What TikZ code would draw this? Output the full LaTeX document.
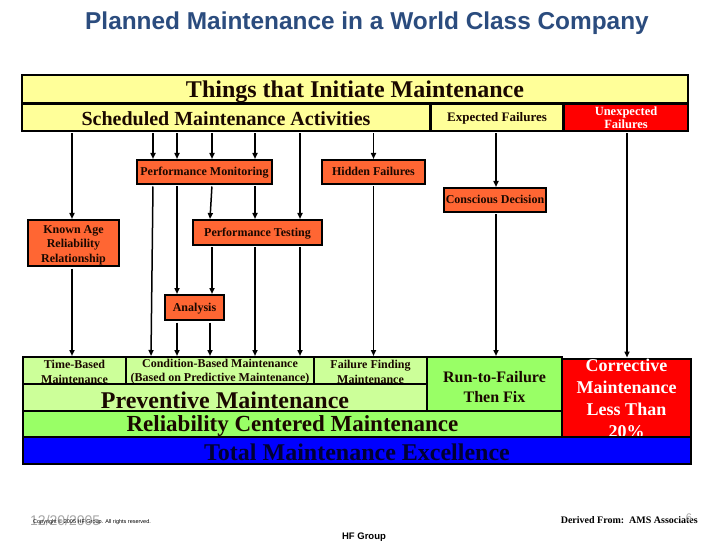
\documentclass[tikz,border=0pt]{standalone}
\usepackage{fontspec}
\setmainfont{Liberation Serif}
\newfontfamily\arialf{Liberation Sans}
\usetikzlibrary{arrows.meta}
\definecolor{ttl}{HTML}{2B4C7E}
\definecolor{yel}{HTML}{FFFF99}
\definecolor{org}{HTML}{FF6633}
\definecolor{lgr}{HTML}{CCFF99}
\definecolor{mgr}{HTML}{99FF66}
\definecolor{rd}{HTML}{FF0000}
\definecolor{bl}{HTML}{0000FF}
\definecolor{nv}{HTML}{000033}
\definecolor{dk}{HTML}{1A0800}
\newcommand\fsz[2]{\fontsize{#1bp}{#2bp}\selectfont}
\begin{document}
\begin{tikzpicture}[x=1bp,y=-1bp,
  bx/.style={draw=black,line width=2bp,inner sep=0pt,align=center,text=dk},
  obx/.style={bx,fill=org,font=\bfseries\fsz{12}{14.5}},
  obxa/.style={obx,text height=11bp,text depth=3bp},
  sbx/.style={bx,fill=lgr,inner ysep=-2bp,font=\bfseries\fsz{12}{14.5}},
  arr/.style={line width=1.5bp,shorten <=1.5bp,-{Triangle[length=6bp,width=5bp]}},
]
\useasboundingbox (0,0) rectangle (728,546);
\fill[white] (0,0) rectangle (728,546);

% title
\node[font=\arialf\bfseries\fsz{24.4}{24.4},text=ttl] (title) at (367,23.5) {Planned Maintenance in a World Class Company};

% top rows
\node[bx,fill=yel,minimum width=666bp,minimum height=28bp,text height=20bp,text depth=2bp,font=\bfseries\fsz{24}{24}] (top) at (355,89) {Things that Initiate Maintenance};
\node[bx,fill=yel,minimum width=408bp,minimum height=27bp,text height=18bp,text depth=2bp,font=\bfseries\fsz{20}{20}] (sched) at (226,117.5) {Scheduled Maintenance Activities};
\node[bx,fill=yel,minimum width=132bp,minimum height=27bp,text height=10bp,text depth=2bp,font=\bfseries\fsz{13}{13}] (exp) at (497,117.5) {Expected Failures};
\node[bx,fill=rd,minimum width=124bp,minimum height=27bp,inner ysep=-2bp,text=white,font=\bfseries\fsz{12.5}{13.5}] (unexp) at (626,117.5) {Unexpected\\Failures};

% orange boxes
\node[obxa,minimum width=135bp,minimum height=24bp] (pm) at (204.5,172) {Performance Monitoring};
\node[obxa,minimum width=103bp,minimum height=24bp] (hid) at (373.5,172) {Hidden Failures};
\node[obxa,minimum width=102bp,minimum height=24bp] (cd) at (495,200) {Conscious Decision};
\node[obx,minimum width=91bp,minimum height=46bp] (ka) at (73.5,243) {\rule{0pt}{12.5bp}Known Age\\Reliability\\Relationship};
\node[obxa,minimum width=129bp,minimum height=25bp] (pt) at (257.5,232.5) {Performance Testing};
\node[obxa,minimum width=59bp,minimum height=25bp] (an) at (194.5,307.5) {Analysis};

% bottom section
\node[sbx,minimum width=103bp,minimum height=27bp] (tb) at (74.5,370.5) {\rule{0pt}{11bp}Time-Based\\Maintenance};
\node[sbx,minimum width=188bp,minimum height=27bp] (cb) at (220,370.5) {\rule{0pt}{11bp}Condition-Based Maintenance\\(Based on Predictive Maintenance)};
\node[sbx,minimum width=113bp,minimum height=27bp] (ff) at (370.5,370.5) {\rule{0pt}{11bp}Failure Finding\\Maintenance};
\node[bx,fill=lgr,minimum width=404bp,minimum height=27bp,text height=21bp,text depth=0bp,font=\bfseries\fsz{24}{24}] (pv) at (225,397.5) {Preventive Maintenance};
\node[bx,fill=mgr,minimum width=135bp,minimum height=54bp,font=\bfseries\fsz{16}{20}] (rf) at (494.5,384) {\rule{0pt}{17bp}Run-to-Failure\\Then Fix};
\node[bx,fill=mgr,minimum width=539bp,minimum height=26bp,text height=18bp,text depth=3bp,font=\bfseries\fsz{23}{23}] (rcm) at (292.5,424) {Reliability Centered Maintenance};
\node[bx,fill=rd,minimum width=129bp,minimum height=80bp,inner ysep=-4bp,text=white,font=\bfseries\fsz{18}{22}] (corr) at (626.5,398.5) {Corrective\\Maintenance\\Less Than\\20\%};
\node[bx,fill=bl,minimum width=668bp,minimum height=27bp,text height=19bp,text depth=0bp,text=nv,font=\bfseries\fsz{24}{24}] (tot) at (357,450.5) {Total Maintenance Excellence};

% x positions of connectors
\coordinate (c72) at (72,0);
\coordinate (c151) at (151,0);
\coordinate (c153) at (153,0);
\coordinate (c177) at (177,0);
\coordinate (c210) at (210,0);
\coordinate (c212) at (212,0);
\coordinate (c255) at (255,0);
\coordinate (c300) at (300,0);
\coordinate (c373) at (373.5,0);
\coordinate (c496) at (496,0);
\coordinate (c627) at (627,0);

% connectors from the top rows
\draw[arr] (sched.south -| c72) -- (ka.north -| c72);
\draw[arr] (sched.south -| c153) -- (pm.north -| c153);
\draw[arr] (sched.south -| c177) -- (pm.north -| c177);
\draw[arr] (sched.south -| c212) -- (pm.north -| c212);
\draw[arr] (sched.south -| c255) -- (pm.north -| c255);
\draw[arr] (sched.south -| c300) -- (pt.north -| c300);
\draw[arr] (sched.south -| c373) -- (hid.north -| c373);
\draw[arr] (exp.south -| c496) -- (cd.north -| c496);
\draw[arr] (unexp.south -| c627) -- (corr.north -| c627);

% middle connectors
\draw[arr] (pm.south -| c153) -- (cb.north -| c151);
\draw[arr] (pm.south -| c177) -- (an.north -| c177);
\draw[arr] (pm.south -| c212) -- (pt.north -| c210);
\draw[arr] (pm.south -| c255) -- (pt.north -| c255);
\draw[arr] (pt.south -| c212) -- (an.north -| c212);
\draw[arr] (pt.south -| c255) -- (cb.north -| c255);
\draw[arr] (pt.south -| c300) -- (cb.north -| c300);
\draw[arr] (an.south -| c177) -- (cb.north -| c177);
\draw[arr] (an.south -| c210) -- (cb.north -| c210);
\draw[arr] (ka.south -| c72) -- (tb.north -| c72);
\draw[arr] (hid.south -| c373) -- (ff.north -| c373);
\draw[arr] (cd.south -| c496) -- (rf.north -| c496);

% footer
\node[anchor=west,inner sep=0pt,font=\arialf\fsz{14}{14},text=black!35] (date) at (30,520) {12/20/2005};
\node[anchor=west,inner sep=0pt,font=\arialf\fsz{5.5}{6}] (copy) at (33,522) {Copyright © 2005 HF Group. All rights reserved.};
\node[anchor=east,inner sep=0pt,font=\bfseries\fsz{10}{10}] (der) at (698,520) {Derived From:\ \ AMS Associates};
\node[inner sep=0pt,font=\arialf\fsz{11}{11},text=black!35] (pg) at (689,518) {6};
\node[inner sep=0pt,font=\arialf\bfseries\fsz{9.5}{9.5}] (hf) at (364,537) {HF Group};
\end{tikzpicture}
\end{document}
